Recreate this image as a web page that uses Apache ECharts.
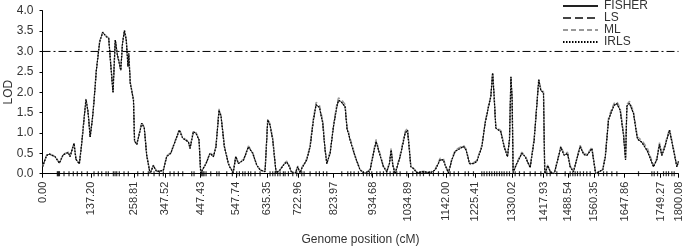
<!DOCTYPE html>
<html>
<head>
<meta charset="utf-8">
<script src="https://cdn.jsdelivr.net/npm/echarts@6/dist/echarts.min.js"></script>
<style>
  html, body { margin: 0; padding: 0; background: #fff; }
  #lodChart { width: 685px; height: 248px; }
</style>
</head>
<body>
<div id="lodChart"></div>
<script>
// chromosome boundaries (cM) used as axis ticks
const boundaries = [0.00, 137.20, 258.81, 347.52, 447.43, 547.74, 635.35, 722.96, 823.97, 934.68,
    1034.89, 1142.00, 1225.41, 1330.02, 1417.93, 1488.54, 1560.35, 1647.86, 1749.27, 1800.08];

// positions along the genome where the profile was read
const positions = [0, 11.8, 19.3, 35.4, 47.7, 59, 73.1, 77.9, 89.2, 94.8, 104.3, 110, 123, 128.8, 135, 141, 146,
    152.4, 161.9, 170.4, 180.7, 187.5, 194, 199.6, 206, 211.9, 217, 221.5, 226.5, 232, 237, 242, 244, 248.5,
    257.5, 260.5, 267, 281, 288, 295, 304.5, 313.8, 323, 342, 351.5, 363, 380, 387.4, 396.8, 413, 417.6, 427,
    434.6, 443, 447.8, 463, 474, 483.7, 491, 499.7, 505.4, 514.8, 526, 531, 540, 547, 554.4, 568.6, 576.2,
    582.8, 587.5, 595, 606.4, 615.8, 629.9, 637.5, 644.1, 651.7, 661.1, 672.4, 681.8, 691.3, 698.8, 705.4,
    714.9, 722.4, 729, 733.8, 747.9, 757.4, 766.8, 774.3, 783.8, 793.2, 799.8, 804.6, 814, 823.4, 832.9, 837.6,
    845.1, 856.5, 862, 865.9, 870.6, 884.8, 898.9, 913.1, 927.2, 936.7, 944.2, 953.7, 965, 974.4, 982, 986.7,
    991.4, 998, 1012.2, 1026.3, 1032.9, 1037.7, 1042.4, 1049.9, 1059.4, 1078.2, 1097.1, 1111.3, 1125.4, 1134.8,
    1139.6, 1149, 1158.5, 1168, 1182, 1191.5, 1199, 1208.5, 1212.3, 1219.8, 1229.2, 1243.4, 1252.8, 1262.3,
    1268.9, 1274, 1278.3, 1283, 1290.6, 1297.2, 1306.6, 1316, 1321.7, 1325.8, 1329.3, 1332, 1342.5, 1356.6,
    1366.1, 1380.3, 1391.6, 1404.5, 1410.4, 1418, 1421.5, 1430.2, 1436.9, 1448.2, 1455.7, 1467, 1476.5, 1486,
    1493.5, 1502.9, 1514.2, 1521.8, 1532, 1541, 1554.9, 1560, 1565.5, 1585.9, 1593, 1602, 1611.5, 1618, 1625.6,
    1635, 1644.4, 1650.2, 1654, 1661.5, 1672.7, 1684, 1696.5, 1712.4, 1729.4, 1738.8, 1746.3, 1753, 1760,
    1774.6, 1784.2, 1795.5, 1800.08];

const fisherLod = [0.17, 0.45, 0.48, 0.42, 0.26, 0.47, 0.52, 0.42, 0.74, 0.35, 0.24, 0.66, 1.82, 1.52, 0.9, 1.32, 1.8,
    2.54, 3.24, 3.47, 3.36, 3.32, 2.58, 2.0, 3.28, 2.92, 2.93, 2.54, 3.2, 3.51, 3.28, 2.63, 2.95, 2.22,
    1.81, 0.8, 0.72, 1.24, 1.12, 0.45, 0.0, 0.2, 0.05, 0.08, 0.42, 0.5, 0.9, 1.07, 0.87, 0.78, 0.62, 1.03,
    0.99, 0.83, 0.02, 0.25, 0.5, 0.42, 0.66, 1.56, 1.4, 0.66, 0.25, 0.15, 0.03, 0.42, 0.25, 0.33, 0.5,
    0.66, 0.7, 0.5, 0.21, 0.09, 0.05, 1.32, 1.19, 0.83, 0.02, 0.09, 0.21, 0.29, 0.17, 0.02,
    0, 0.17, 0.02, 0.13, 0.34, 0.66, 1.32, 1.69, 1.63, 1.24, 0.58, 0.25, 0.5, 1.15, 1.64, 1.8,
    1.77, 1.64, 1.1, 0.99, 0.83, 0.42, 0.09, 0, 0.09, 0.5, 0.79, 0.5, 0.17, 0.05, 0.25, 0.58,
    0.21, 0, 0.42, 0.99, 1.07, 0.66, 0.17, 0.13, 0.02, 0.05, 0.02, 0.09, 0.34, 0.34,
    0.21, 0.02, 0.34, 0.55, 0.62, 0.67, 0.58, 0.25, 0.21, 0.25, 0.3, 0.66, 1.24, 1.64,
    1.89, 2.47, 1.89, 1.12, 1.07, 1.03, 0.66, 0.42, 0.83, 2.37, 1.81, 0.03, 0.25, 0.5,
    0.42, 0.15, 0.83, 2.3, 2.05, 1.98, 0, 0.2, 0.05, 0, 0.25, 0.65, 0.45, 0.5,
    0.17, 0.05, 0.42, 0.67, 0.47, 0.45, 0.62, 0.65, 0, 0.1, 0.42, 1.32, 1.55, 1.68, 1.72,
    1.56, 0.95, 0.34, 1.66, 1.73, 1.48, 0.85, 0.77, 0.55, 0.17, 0.35, 0.72, 0.45, 0.62,
    1.07, 0.66, 0.17, 0.3];

const mlLod = [0.17, 0.46, 0.49, 0.43, 0.27, 0.48, 0.53, 0.43, 0.75, 0.36, 0.25, 0.67, 1.84, 1.54, 0.92, 1.34, 1.82,
    2.56, 3.26, 3.48, 3.38, 3.33, 2.6, 2.02, 3.29, 2.94, 2.95, 2.56, 3.22, 3.52, 3.3, 2.65, 2.97, 2.24,
    1.83, 0.82, 0.74, 1.26, 1.14, 0.47, 0.0, 0.21, 0.06, 0.09, 0.44, 0.52, 0.92, 1.09, 0.89, 0.8, 0.64, 1.05,
    1.01, 0.85, 0.03, 0.26, 0.52, 0.44, 0.68, 1.59, 1.43, 0.68, 0.26, 0.16, 0.04, 0.44, 0.27, 0.35, 0.52,
    0.68, 0.72, 0.52, 0.22, 0.1, 0.06, 1.35, 1.22, 0.86, 0.03, 0.1, 0.23, 0.31, 0.19, 0.03,
    0, 0.19, 0.03, 0.15, 0.37, 0.7, 1.37, 1.75, 1.69, 1.3, 0.62, 0.28, 0.54, 1.2, 1.7, 1.86,
    1.83, 1.7, 1.16, 1.04, 0.87, 0.45, 0.1, 0, 0.11, 0.54, 0.84, 0.54, 0.19, 0.06, 0.28, 0.62,
    0.23, 0, 0.46, 1.04, 1.12, 0.7, 0.19, 0.14, 0.03, 0.06, 0.03, 0.11, 0.38, 0.37,
    0.23, 0.03, 0.37, 0.58, 0.65, 0.7, 0.61, 0.27, 0.22, 0.27, 0.32, 0.69, 1.27, 1.67,
    1.92, 2.49, 1.92, 1.16, 1.1, 1.06, 0.69, 0.44, 0.86, 2.39, 1.84, 0.04, 0.27, 0.53,
    0.44, 0.17, 0.86, 2.32, 2.08, 2.01, 0, 0.22, 0.06, 0, 0.27, 0.68, 0.48, 0.53,
    0.19, 0.06, 0.45, 0.7, 0.5, 0.48, 0.65, 0.68, 0, 0.12, 0.46, 1.37, 1.6, 1.73, 1.77,
    1.61, 1.0, 0.37, 1.7, 1.78, 1.53, 0.9, 0.82, 0.62, 0.2, 0.38, 0.76, 0.5, 0.67,
    1.1, 0.7, 0.19, 0.31];

// marker positions shown as a rug on the axis
const markers = [42, 44, 46, 48, 60.9, 75, 87.2, 98.5, 111, 126.8, 145.8, 158, 167.6, 179.8, 186.3, 200.5, 205.3,
    210.1, 217.4, 230.7, 242.9, 269.5, 285.4, 299.5, 315.7, 330.7, 342, 361, 372.3, 384.5, 396.9, 422.4,
    428.9, 450.7, 454, 457.2, 462.9, 476.2, 493.2, 499.7, 521.5, 537.4, 549.7, 557.3, 566.7, 573.3, 582.8,
    589.4, 601.6, 615.8, 644.1, 651.7, 658.3, 665.8, 672.4, 681.8, 686.6, 696, 708.3, 719.6, 733.8, 740.4,
    757.4, 774.3, 783.8, 795.1, 804.6, 847, 864, 872.5, 881.9, 894.2, 908.3, 917.8, 925.3, 931.9, 946.1,
    955.5, 965, 974.4, 983.9, 993.3, 1002.7, 1012.2, 1031, 1048, 1059.4, 1068.8, 1078.2, 1095.2, 1106.5,
    1120.7, 1134.8, 1153.7, 1165, 1177.3, 1196.2, 1205.6, 1219.8, 1243.4, 1250, 1257.6, 1265.1, 1271.7,
    1279.3, 1285.9, 1293.4, 1300, 1306.6, 1314.2, 1321.7, 1337.8, 1350, 1363.3, 1380.3, 1394.4, 1410.4,
    1427.4, 1436.9, 1455.7, 1479.3, 1493.5, 1501, 1507.6, 1514.2, 1521.8, 1531.2, 1540.6, 1550.1,
    1573.7, 1587.9, 1597.3, 1611.4, 1625.6, 1686.9, 1724.7, 1731.3, 1740.7, 1757.7, 1765.3, 1771.9,
    1781.3, 1787.9];

const threshold = 3.0;

const pair = (ys) => positions.map((p, i) => [p, ys[i]]);

let chartLod = echarts.init(document.getElementById("lodChart"));

const fontFam = '"Liberation Sans", Arial, sans-serif';

const option = {
    animation: false,
    textStyle: { fontFamily: fontFam },
    grid: {
        left: 42.5,
        right: 6.5,
        top: 10.7,
        bottom: 74.3,
        outerBoundsMode: 'none'
    },
    legend: {
        data: ['FISHER', 'LS', 'ML', 'IRLS'],
        orient: 'vertical',
        left: 562,
        top: 0,
        itemWidth: 35,
        itemHeight: 12,
        itemGap: 0,
        padding: 0,
        itemStyle: { color: 'transparent', borderWidth: 0 },
        textStyle: { fontSize: 12, color: '#333', fontFamily: fontFam, padding: [0, 0, 0, 1] }
    },
    xAxis: {
        type: 'value',
        min: 0,
        max: 1800.08,
        name: 'Genome position (cM)',
        nameLocation: 'middle',
        nameGap: 60,
        nameTextStyle: { fontSize: 12, color: '#333', fontFamily: fontFam },
        splitLine: { show: false },
        axisLine: { lineStyle: { color: '#000', width: 1 } },
        axisTick: { customValues: boundaries, length: 4, lineStyle: { color: '#000' } },
        axisLabel: {
            customValues: boundaries,
            rotate: 90,
            margin: 8,
            fontSize: 11,
            color: '#333',
            formatter: (v) => v.toFixed(2)
        }
    },
    yAxis: {
        type: 'value',
        min: 0,
        max: 4,
        interval: 0.5,
        name: 'LOD',
        nameLocation: 'middle',
        nameGap: 28,
        nameMoveOverlap: false,
        nameTextStyle: { fontSize: 12, color: '#333', fontFamily: fontFam },
        splitLine: { show: false },
        axisLine: { show: true, lineStyle: { color: '#000', width: 1 } },
        axisTick: { show: true, length: 3, lineStyle: { color: '#000' } },
        axisLabel: {
            margin: 9,
            fontSize: 12,
            color: '#333',
            formatter: (v) => v.toFixed(1)
        }
    },
    series: [{
        name: 'FISHER',
        type: 'line',
        data: pair(fisherLod),
        showSymbol: false,
        symbol: 'none',
        z: 2,
        lineStyle: { color: '#222', width: 0.7, type: 'solid' },
        itemStyle: { color: '#222' }
    }, {
        name: 'LS',
        type: 'line',
        data: pair(fisherLod),
        showSymbol: false,
        symbol: 'none',
        z: 3,
        lineStyle: { color: '#444', width: 1, type: [8, 4] },
        itemStyle: { color: '#444' }
    }, {
        name: 'ML',
        type: 'line',
        data: pair(mlLod),
        showSymbol: false,
        symbol: 'none',
        z: 4,
        lineStyle: { color: '#999', width: 1.4, type: [5, 3] },
        itemStyle: { color: '#999' }
    }, {
        name: 'IRLS',
        type: 'line',
        data: pair(fisherLod),
        showSymbol: false,
        symbol: 'none',
        z: 5,
        lineStyle: { color: '#000', width: 1.3, type: [1.5, 1.5] },
        itemStyle: { color: '#000' }
    }, {
        name: 'threshold',
        type: 'line',
        data: [[0, threshold], [1800.08, threshold]],
        showSymbol: false,
        symbol: 'none',
        silent: true,
        z: 6,
        lineStyle: { color: '#000', width: 1, type: [8, 3, 2, 3] }
    }, {
        name: 'markers',
        type: 'scatter',
        data: markers.map((m) => [m, 0]),
        symbol: 'rect',
        symbolSize: [1.2, 5],
        clip: false,
        silent: true,
        z: 7,
        itemStyle: { color: '#000' }
    }]
};

option && chartLod.setOption(option);
window.addEventListener('resize', chartLod.resize);
</script>
</body>
</html>
